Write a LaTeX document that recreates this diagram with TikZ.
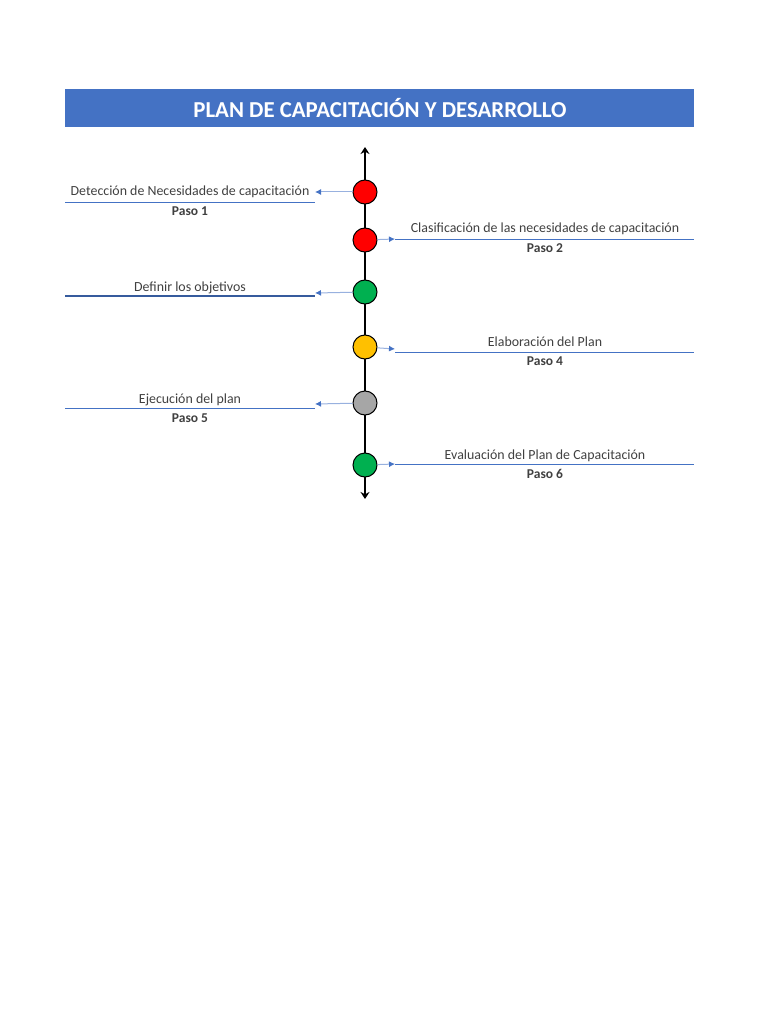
\documentclass[tikz,border=0pt]{standalone}
\usepackage{fontspec}
\setmainfont{Carlito}
\usetikzlibrary{arrows.meta}
\definecolor{hdr}{HTML}{4472C4}
\definecolor{ln}{HTML}{4472C4}
\definecolor{gr}{HTML}{00B050}
\definecolor{yl}{HTML}{FFC000}
\definecolor{gy}{HTML}{A6A6A6}
\definecolor{tx}{HTML}{404040}
\begin{document}
\begin{tikzpicture}[x=1pt,y=-1pt,
  dot/.style={circle,draw=black,line width=1pt,minimum size=24pt,inner sep=0pt},
  lbl/.style={font=\fontsize{13.9}{16}\selectfont,text=tx,inner sep=0pt,anchor=base},
  pas/.style={font=\fontsize{13.5}{16}\selectfont\bfseries,text=tx,inner sep=0pt,anchor=base},
  uline/.style={draw=ln,line width=0.9pt},
  con/.style={draw=ln!55,line width=1pt,-{Latex[length=6pt,width=6pt,color=ln]}}]
\useasboundingbox (0,0) rectangle (768,1024);
\fill[hdr] (65,89) rectangle (694,127);
\node[font=\fontsize{22.8}{26}\selectfont\bfseries,text=white] (title) at (380,108) {PLAN DE CAPACITACIÓN Y DESARROLLO};
\coordinate (top) at (365,147);
\coordinate (bot) at (365,499);
\draw[line width=1.4pt,{Stealth[length=7pt,width=9pt]}-{Stealth[length=7pt,width=9pt]}] (top) -- (bot);
\node[dot,fill=red] (c1) at (365,192) {};
\node[dot,fill=red] (c2) at (365,240) {};
\node[dot,fill=gr] (c3) at (365,292) {};
\node[dot,fill=yl] (c4) at (365,347) {};
\node[dot,fill=gy] (c5) at (365,403) {};
\node[dot,fill=gr] (c6) at (365,465) {};
% left
\coordinate (l1) at (315,192); \draw[con] (c1) -- (l1);
\draw[uline] (65,202) -- (315,202);
\node[lbl] (t1) at (190,196) {Detección de Necesidades de capacitación};
\node[pas] (p1) at (190,215) {Paso 1};
\coordinate (l3) at (315,293); \draw[con] (c3) -- (l3);
\draw[uline,line width=1.6pt,draw=ln!80!black] (65,296) -- (315,296);
\node[lbl] (t3) at (190,291) {Definir los objetivos};
\coordinate (l5) at (315,404); \draw[con] (c5) -- (l5);
\draw[uline] (65,408) -- (315,408);
\node[lbl] (t5) at (190,403) {Ejecución del plan};
\node[pas] (p5) at (190,422) {Paso 5};
% right
\coordinate (r2) at (395,239); \draw[con] (c2) -- (r2);
\draw[uline] (395,239) -- (694,239);
\node[lbl] (t2) at (545,233) {Clasificación de las necesidades de capacitación};
\node[pas] (p2) at (545,252) {Paso 2};
\coordinate (r4) at (395,349); \draw[con] (c4) -- (r4);
\draw[uline] (395,352) -- (694,352);
\node[lbl] (t4) at (545,346) {Elaboración del Plan};
\node[pas] (p4) at (545,365) {Paso 4};
\coordinate (r6) at (395,464); \draw[con] (c6) -- (r6);
\draw[uline] (395,464) -- (694,464);
\node[lbl] (t6) at (545,459) {Evaluación del Plan de Capacitación};
\node[pas] (p6) at (545,478) {Paso 6};
\end{tikzpicture}
\end{document}
